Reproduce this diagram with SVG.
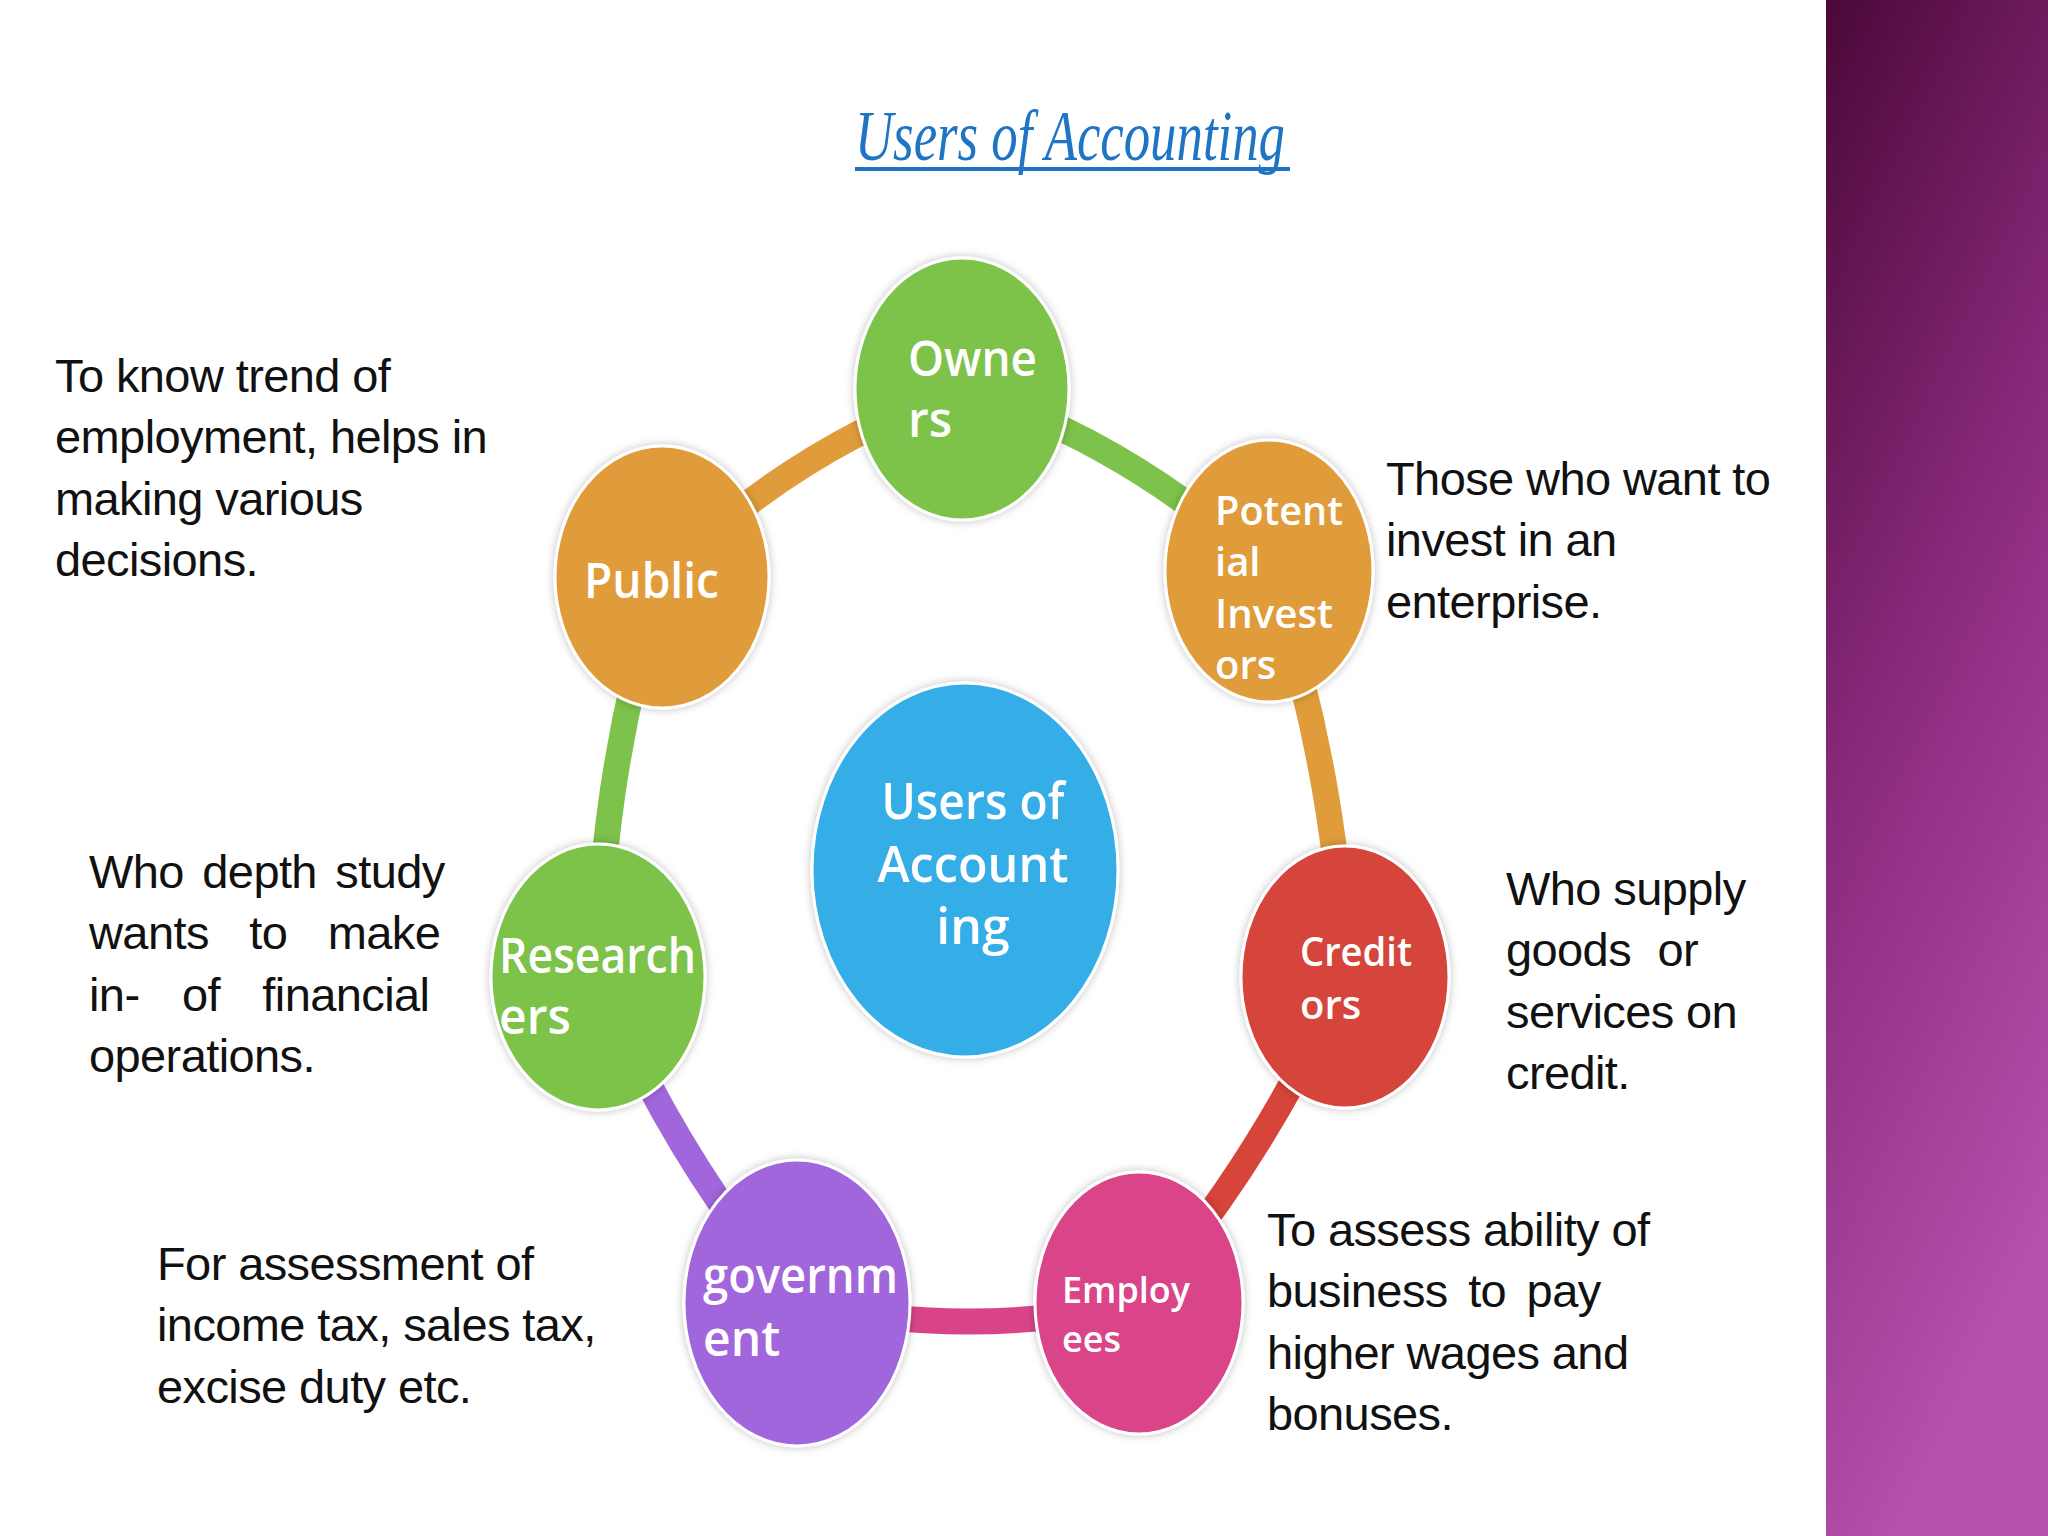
<svg xmlns="http://www.w3.org/2000/svg" width="2048" height="1536" viewBox="0 0 2048 1536">
<defs>
<linearGradient id="pg" x1="0" y1="0" x2="0.3" y2="1"><stop offset="0" stop-color="#4a0838"/><stop offset="0.5" stop-color="#8a2a7c"/><stop offset="1" stop-color="#b550ad"/></linearGradient>
<filter id="sh" x="-20%" y="-20%" width="140%" height="140%"><feDropShadow dx="0" dy="0" stdDeviation="4" flood-color="#000" flood-opacity="0.25"/></filter>
</defs>
<style>
.ring{fill:none;stroke-width:26}
.n{stroke:#fff;stroke-width:3;filter:url(#sh)}
.nt{font-family:"Open Sans","Noto Sans",sans-serif;font-weight:600;fill:#fff}
.d{font-family:"Liberation Sans",Arial,sans-serif;font-size:47px;fill:#111;letter-spacing:-0.6px}
</style>
<rect width="2048" height="1536" fill="#fff"/>
<rect x="1826" y="0" width="222" height="1536" fill="url(#pg)"/>
<g id="title">
<text x="855" y="160" font-family="Liberation Serif,serif" font-style="italic" font-size="72" fill="#1f74c4" textLength="430" lengthAdjust="spacingAndGlyphs">Users of Accounting</text>
<rect x="855" y="167" width="435" height="4" fill="#1f74c4"/>
</g>
<g id="connectors">
<path class="ring" stroke="#7dc24a" d="M962,389 Q1130,443 1269,571"/>
<path class="ring" stroke="#e09c3a" d="M1269,571 Q1336,767 1345,977"/>
<path class="ring" stroke="#d6443a" d="M1345,977 Q1263,1161 1139,1303"/>
<path class="ring" stroke="#d94488" d="M1139,1303 Q968,1340 797,1303"/>
<path class="ring" stroke="#a266dc" d="M797,1303 Q676,1162 598,977"/>
<path class="ring" stroke="#7dc24a" d="M598,977 Q601,770 662,577"/>
<path class="ring" stroke="#e09c3a" d="M662,577 Q797,446 962,389"/>
</g>
<g id="center"><ellipse class="n" cx="965" cy="870" rx="153" ry="187" fill="#35aee8"/>
<text class="nt" font-size="50" text-anchor="middle"><tspan x="973" y="819" textLength="183" lengthAdjust="spacingAndGlyphs">Users of</tspan><tspan x="973" y="882" textLength="191" lengthAdjust="spacingAndGlyphs">Account</tspan><tspan x="973" y="944">ing</tspan></text></g>
<g id="owners"><ellipse class="n" cx="962" cy="389" rx="107" ry="131" fill="#7dc24a"/>
<text class="nt" font-size="48"><tspan x="908" y="376" textLength="129" lengthAdjust="spacingAndGlyphs">Owne</tspan><tspan x="908" y="437">rs</tspan></text></g>
<g id="investors"><ellipse class="n" cx="1269" cy="571" rx="104" ry="131" fill="#e09c3a"/>
<text class="nt" font-size="40"><tspan x="1215" y="525" textLength="128" lengthAdjust="spacingAndGlyphs">Potent</tspan><tspan x="1215" y="576">ial</tspan><tspan x="1215" y="628" textLength="118" lengthAdjust="spacingAndGlyphs">Invest</tspan><tspan x="1215" y="679">ors</tspan></text></g>
<g id="creditors"><ellipse class="n" cx="1345" cy="977" rx="104" ry="131" fill="#d6443a"/>
<text class="nt" font-size="40"><tspan x="1300" y="966" textLength="112" lengthAdjust="spacingAndGlyphs">Credit</tspan><tspan x="1300" y="1019">ors</tspan></text></g>
<g id="employees"><ellipse class="n" cx="1139" cy="1303" rx="104" ry="131" fill="#d94488"/>
<text class="nt" font-size="36"><tspan x="1062" y="1303" textLength="128" lengthAdjust="spacingAndGlyphs">Employ</tspan><tspan x="1062" y="1352">ees</tspan></text></g>
<g id="government"><ellipse class="n" cx="797" cy="1303" rx="113" ry="143" fill="#a266dc"/>
<text class="nt" font-size="48"><tspan x="703" y="1293" textLength="195" lengthAdjust="spacingAndGlyphs">governm</tspan><tspan x="703" y="1356">ent</tspan></text></g>
<g id="researchers"><ellipse class="n" cx="598" cy="977" rx="107" ry="133" fill="#7dc24a"/>
<text class="nt" font-size="48"><tspan x="499" y="973" textLength="197" lengthAdjust="spacingAndGlyphs">Research</tspan><tspan x="499" y="1034">ers</tspan></text></g>
<g id="public"><ellipse class="n" cx="662" cy="577" rx="107" ry="131" fill="#e09c3a"/>
<text class="nt" font-size="48" x="584" y="598" textLength="135" lengthAdjust="spacingAndGlyphs">Public</text></g>
<g id="descriptions">
<text class="d"><tspan x="55" y="392">To know trend of</tspan><tspan x="55" y="453">employment, helps in</tspan><tspan x="55" y="515">making various</tspan><tspan x="55" y="576">decisions.</tspan></text>
<text class="d"><tspan x="1386" y="495">Those who want to</tspan><tspan x="1386" y="556">invest  in an</tspan><tspan x="1386" y="618">enterprise.</tspan></text>
<text class="d"><tspan x="89" y="888" word-spacing="6">Who depth study</tspan><tspan x="89" y="949" word-spacing="28">wants to make</tspan><tspan x="89" y="1011" word-spacing="30">in- of financial</tspan><tspan x="89" y="1072">operations.</tspan></text>
<text class="d"><tspan x="1506" y="905">Who supply</tspan><tspan x="1506" y="966" word-spacing="14">goods or</tspan><tspan x="1506" y="1028">services on</tspan><tspan x="1506" y="1089">credit.</tspan></text>
<text class="d"><tspan x="157" y="1280">For assessment of</tspan><tspan x="157" y="1341">income  tax, sales tax,</tspan><tspan x="157" y="1403">excise duty etc.</tspan></text>
<text class="d"><tspan x="1267" y="1246">To assess ability of</tspan><tspan x="1267" y="1307" word-spacing="8">business to pay</tspan><tspan x="1267" y="1369">higher wages and</tspan><tspan x="1267" y="1430">bonuses.</tspan></text>
</g>
</svg>
